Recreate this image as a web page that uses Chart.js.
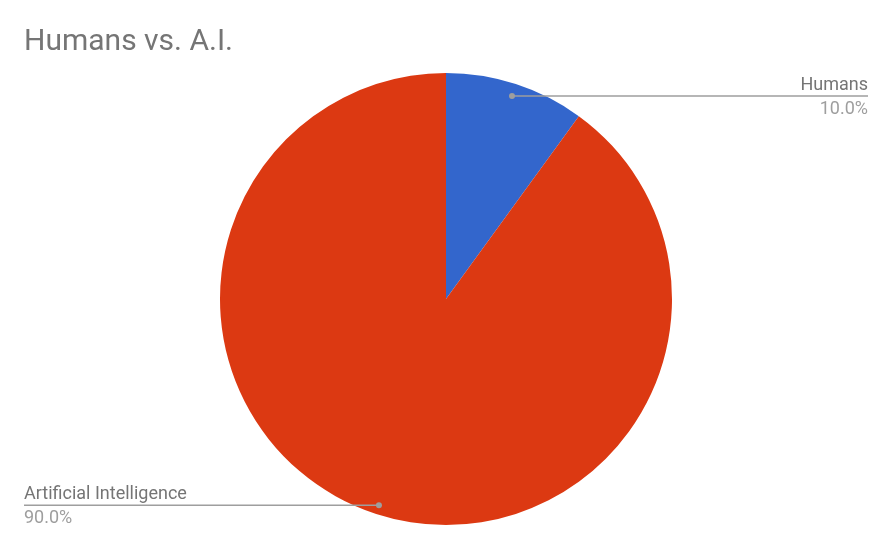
<!DOCTYPE html>
<html>
<head>
<meta charset="utf-8">
<script src="https://cdn.jsdelivr.net/npm/chart.js@4"></script>
<style>
  html, body { margin: 0; padding: 0; background: #fff; }
  #wrap { width: 891px; height: 551px; }
</style>
</head>
<body>
<div id="wrap"><canvas id="pieChart"></canvas></div>
<script>
// Chart data
const chartTitle = 'Humans vs. A.I.';
const categories = ['Humans', 'Artificial Intelligence'];
const values = [10, 90];
const sliceColors = ['#3366cc', '#dc3912'];

// Draws the title and the leader-line labels
const labelPlugin = {
    id: 'leaderLabels',
    afterDraw(chart) {
        const ctx = chart.ctx;
        const meta = chart.getDatasetMeta(0);
        const total = values.reduce((a, b) => a + b, 0);

        ctx.save();
        ctx.font = '30px Roboto';
        ctx.fillStyle = '#757575';
        ctx.textAlign = 'left';
        ctx.textBaseline = 'alphabetic';
        ctx.fillText(chartTitle, 24, 50);

        meta.data.forEach((arc, i) => {
            const mid = (arc.startAngle + arc.endAngle) / 2;
            const r = arc.outerRadius * (i === 0 ? 0.945 : 0.96);
            const px = arc.x + Math.cos(mid) * r;
            const py = arc.y + Math.sin(mid) * r;
            const right = Math.cos(mid) >= 0;
            const endX = right ? 868 : 24;

            ctx.strokeStyle = '#9e9e9e';
            ctx.lineWidth = 1.5;
            ctx.beginPath();
            ctx.moveTo(px, py);
            ctx.lineTo(endX, py);
            ctx.stroke();

            ctx.fillStyle = '#9e9e9e';
            ctx.beginPath();
            ctx.arc(px, py, 3, 0, Math.PI * 2);
            ctx.fill();

            ctx.textAlign = right ? 'right' : 'left';
            ctx.font = '18px Roboto';
            ctx.fillStyle = '#757575';
            ctx.fillText(categories[i], endX, py - 6);
            ctx.fillStyle = '#9e9e9e';
            ctx.fillText((values[i] / total * 100).toFixed(1) + '%', endX, py + 18);
        });
        ctx.restore();
    }
};

new Chart(document.getElementById('pieChart'), {
    type: 'pie',
    data: {
        labels: categories,
        datasets: [{
            data: values,
            backgroundColor: sliceColors,
            borderWidth: 0
        }]
    },
    options: {
        responsive: true,
        maintainAspectRatio: false,
        animation: false,
        layout: {
            padding: { top: 73, bottom: 26, left: 1, right: 0 }
        },
        plugins: {
            legend: { display: false },
            tooltip: { enabled: false }
        }
    },
    plugins: [labelPlugin]
});
</script>
</body>
</html>
